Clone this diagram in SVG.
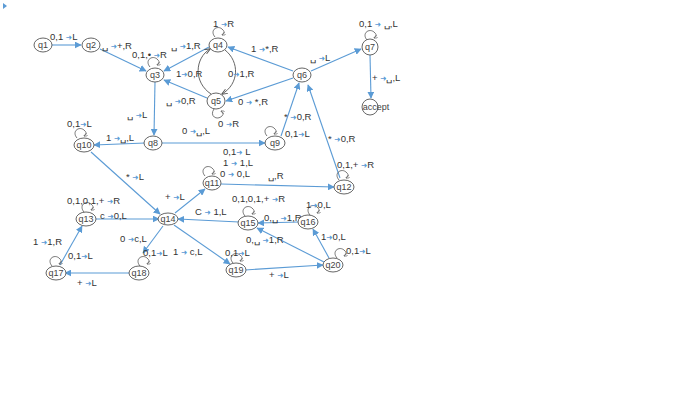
<svg xmlns="http://www.w3.org/2000/svg" width="680" height="413" viewBox="0 0 680 413">
<defs>
<style>
.n ellipse{fill:#fff;stroke:#555;stroke-width:0.9}
.n text{font-family:"Liberation Sans",Arial,sans-serif;font-size:9px;fill:#444;text-anchor:middle}
.e line{stroke:#5b9bd5;stroke-width:1.1;fill:none;marker-end:url(#ah)}
.lp{stroke:#555;stroke-width:0.8;fill:none;marker-end:url(#lh)}
.arc{stroke:#555;stroke-width:0.9;fill:none}
.l{font-family:"Liberation Sans",Arial,sans-serif;font-size:9.5px;fill:#333}
.a{fill:#5b9bd5;font-family:"DejaVu Sans",sans-serif;font-size:7.5px}
</style>
<marker id="ah" viewBox="0 0 10 10" refX="9" refY="5" markerWidth="7" markerHeight="7" orient="auto" markerUnits="userSpaceOnUse"><path d="M0,0L10,5L0,10z" fill="#5b9bd5"/></marker>
<marker id="gh" viewBox="0 0 10 10" refX="9" refY="5" markerWidth="6" markerHeight="6" orient="auto" markerUnits="userSpaceOnUse"><path d="M0,1L10,5L0,9" fill="none" stroke="#555" stroke-width="1.5"/></marker>
<marker id="lh" viewBox="0 0 10 10" refX="9" refY="5" markerWidth="4" markerHeight="4" orient="auto" markerUnits="userSpaceOnUse"><path d="M0,1L10,5L0,9" fill="none" stroke="#555" stroke-width="1.5"/></marker>
</defs>
<rect width="680" height="413" fill="#fff"/>
<path d="M3,3L7,6L3,9z" fill="#5b9bd5"/>
<g id="connectors" class="e">
<line x1="52" y1="45" x2="81" y2="45"/>
<line x1="100" y1="49" x2="146" y2="71"/>
<line x1="209" y1="47" x2="164" y2="71"/>
<line x1="207" y1="98" x2="164" y2="80"/>
<line x1="293" y1="71" x2="228" y2="47"/>
<line x1="293" y1="78" x2="226" y2="101"/>
<line x1="311" y1="71" x2="361" y2="49"/>
<line x1="370" y1="55" x2="371" y2="98"/>
<line x1="155" y1="82" x2="154" y2="135"/>
<line x1="145" y1="143" x2="94" y2="145"/>
<line x1="162" y1="143" x2="265" y2="143"/>
<line x1="281" y1="136" x2="299" y2="83"/>
<line x1="340" y1="178" x2="308" y2="85"/>
<line x1="91" y1="152" x2="160" y2="214"/>
<line x1="175" y1="213" x2="205" y2="189"/>
<line x1="221" y1="184" x2="334" y2="187"/>
<line x1="95" y1="219" x2="159" y2="219"/>
<line x1="239" y1="222" x2="178" y2="219"/>
<line x1="299" y1="222" x2="258" y2="223"/>
<line x1="329" y1="258" x2="313" y2="229"/>
<line x1="324" y1="262" x2="257" y2="228"/>
<line x1="245" y1="270" x2="323" y2="265"/>
<line x1="174" y1="225" x2="230" y2="264"/>
<line x1="163" y1="226" x2="143" y2="253"/>
<line x1="130" y1="273" x2="65" y2="273"/>
<line x1="60" y1="265" x2="82" y2="226"/>
<path class="arc" d="M211,94 C193,82 195,58 210,49" marker-end="url(#gh)"/>
<path class="arc" d="M225,50 C240,62 239,84 222,94" marker-end="url(#gh)"/>
<path class="lp" d="M150,67 c-6,-7 3,-13 8,-7 c2,2 1,4 -1,5"/>
<path class="lp" d="M215,37 c-6,-7 3,-13 8,-7 c2,2 1,4 -1,5"/>
<path class="lp" d="M214,109 c-5,7 3,12 8,7 c2,-2 1,-4 -1,-5"/>
<path class="lp" d="M367,40 c-6,-7 3,-13 8,-7 c2,2 1,4 -1,5"/>
<path class="lp" d="M267,136 c-6,-7 3,-13 8,-7 c2,2 1,4 -1,5"/>
<path class="lp" d="M77,138 c-6,-7 3,-13 8,-7 c2,2 1,4 -1,5"/>
<path class="lp" d="M205,176 c-6,-7 3,-13 8,-7 c2,2 1,4 -1,5"/>
<path class="lp" d="M339,180 c-6,-7 3,-13 8,-7 c2,2 1,4 -1,5"/>
<path class="lp" d="M84,212 c-6,-7 3,-13 8,-7 c2,2 1,4 -1,5"/>
<path class="lp" d="M245,216 c-6,-7 3,-13 8,-7 c2,2 1,4 -1,5"/>
<path class="lp" d="M310,215 c-6,-7 3,-13 8,-7 c2,2 1,4 -1,5"/>
<path class="lp" d="M52,266 c-6,-7 3,-13 8,-7 c2,2 1,4 -1,5"/>
<path class="lp" d="M140,266 c-6,-7 3,-13 8,-7 c2,2 1,4 -1,5"/>
<path class="lp" d="M233,263 c-6,-7 3,-13 8,-7 c2,2 1,4 -1,5"/>
<path class="lp" d="M337,258 c-6,-7 3,-13 8,-7 c2,2 1,4 -1,5"/>
</g>
<g id="labels">
<text class="l" x="50" y="40">0,1 <tspan class="a">➜</tspan>L</text>
<text class="l" x="102" y="49">␣ <tspan class="a">➜</tspan>+,R</text>
<text class="l" x="132" y="58">0,1,• <tspan class="a">➜</tspan>R</text>
<text class="l" x="171" y="49">␣ <tspan class="a">➜</tspan>1,R</text>
<text class="l" x="213" y="27">1 <tspan class="a">➜</tspan>R</text>
<text class="l" x="176" y="77">1<tspan class="a">➜</tspan>0,R</text>
<text class="l" x="228" y="77">0<tspan class="a">➜</tspan>1,R</text>
<text class="l" x="251" y="52">1 <tspan class="a">➜</tspan>*,R</text>
<text class="l" x="166" y="104">␣ <tspan class="a">➜</tspan>0,R</text>
<text class="l" x="218" y="127">0 <tspan class="a">➜</tspan>R</text>
<text class="l" x="238" y="105">0 <tspan class="a">➜</tspan> *,R</text>
<text class="l" x="310" y="61">␣ <tspan class="a">➜</tspan>L</text>
<text class="l" x="359" y="27">0,1 <tspan class="a">➜</tspan>  ␣,L</text>
<text class="l" x="372" y="81">+ <tspan class="a">➜</tspan>␣,L</text>
<text class="l" x="127" y="118">␣ <tspan class="a">➜</tspan>L</text>
<text class="l" x="106" y="141">1 <tspan class="a">➜</tspan>␣,L</text>
<text class="l" x="182" y="134">0 <tspan class="a">➜</tspan>␣,L</text>
<text class="l" x="284" y="120">* <tspan class="a">➜</tspan>0,R</text>
<text class="l" x="285" y="137">0,1<tspan class="a">➜</tspan>L</text>
<text class="l" x="328" y="142">* <tspan class="a">➜</tspan>0,R</text>
<text class="l" x="67" y="127">0,1<tspan class="a">➜</tspan>L</text>
<text class="l" x="126" y="180">* <tspan class="a">➜</tspan>L</text>
<text class="l" x="223" y="155">0,1<tspan class="a">➜</tspan> L</text>
<text class="l" x="223" y="166">1 <tspan class="a">➜</tspan> 1,L</text>
<text class="l" x="220" y="177">0 <tspan class="a">➜</tspan> 0,L</text>
<text class="l" x="268" y="179">␣,R</text>
<text class="l" x="337" y="168">0,1,+ <tspan class="a">➜</tspan>R</text>
<text class="l" x="165" y="200">+ <tspan class="a">➜</tspan>L</text>
<text class="l" x="67" y="204">0,1,0,1,+ <tspan class="a">➜</tspan>R</text>
<text class="l" x="100" y="219">c <tspan class="a">➜</tspan>0,L</text>
<text class="l" x="195" y="215">C <tspan class="a">➜</tspan> 1,L</text>
<text class="l" x="232" y="202">0,1,0,1,+ <tspan class="a">➜</tspan>R</text>
<text class="l" x="264" y="221">0,␣ <tspan class="a">➜</tspan>1,R</text>
<text class="l" x="306" y="208">1<tspan class="a">➜</tspan>0,L</text>
<text class="l" x="321" y="240">1<tspan class="a">➜</tspan>0,L</text>
<text class="l" x="246" y="243">0,␣ <tspan class="a">➜</tspan>1,R</text>
<text class="l" x="346" y="254">0,1<tspan class="a">➜</tspan>L</text>
<text class="l" x="269" y="278">+ <tspan class="a">➜</tspan>L</text>
<text class="l" x="225" y="256">0,1<tspan class="a">➜</tspan>L</text>
<text class="l" x="173" y="255">1 <tspan class="a">➜</tspan> c,L</text>
<text class="l" x="120" y="242">0 <tspan class="a">➜</tspan>c,L</text>
<text class="l" x="143" y="256">0,1<tspan class="a">➜</tspan>L</text>
<text class="l" x="77" y="286">+ <tspan class="a">➜</tspan>L</text>
<text class="l" x="68" y="259">0,1<tspan class="a">➜</tspan>L</text>
<text class="l" x="33" y="245">1 <tspan class="a">➜</tspan>1,R</text>
</g>
<g id="q1" class="n"><ellipse cx="43" cy="45" rx="9" ry="7"/><text x="43" y="48">q1</text></g>
<g id="q2" class="n"><ellipse cx="91" cy="45" rx="9" ry="7"/><text x="91" y="48">q2</text></g>
<g id="q3" class="n"><ellipse cx="155" cy="75" rx="9" ry="7"/><text x="155" y="78">q3</text></g>
<g id="q4" class="n"><ellipse cx="218" cy="45" rx="9" ry="7"/><text x="218" y="48">q4</text></g>
<g id="q5" class="n"><ellipse cx="216" cy="101" rx="9" ry="8"/><text x="216" y="104">q5</text></g>
<g id="q6" class="n"><ellipse cx="302" cy="75" rx="9" ry="7"/><text x="302" y="78">q6</text></g>
<g id="q7" class="n"><ellipse cx="370" cy="47" rx="8" ry="8"/><text x="370" y="50">q7</text></g>
<g id="accept" class="n"><ellipse cx="370" cy="107" rx="8" ry="8"/><text x="376" y="110">accept</text></g>
<g id="q8" class="n"><ellipse cx="153" cy="143" rx="9" ry="7"/><text x="153" y="146">q8</text></g>
<g id="q9" class="n"><ellipse cx="275" cy="143" rx="10" ry="7"/><text x="275" y="146">q9</text></g>
<g id="q10" class="n"><ellipse cx="84" cy="145" rx="10" ry="7"/><text x="84" y="148">q10</text></g>
<g id="q11" class="n"><ellipse cx="212" cy="183" rx="9" ry="7"/><text x="212" y="186">q11</text></g>
<g id="q12" class="n"><ellipse cx="344" cy="187" rx="10" ry="7"/><text x="344" y="190">q12</text></g>
<g id="q13" class="n"><ellipse cx="86" cy="219" rx="10" ry="7"/><text x="86" y="222">q13</text></g>
<g id="q14" class="n"><ellipse cx="168" cy="219" rx="10" ry="6"/><text x="168" y="222">q14</text></g>
<g id="q15" class="n"><ellipse cx="248" cy="223" rx="10" ry="7"/><text x="248" y="226">q15</text></g>
<g id="q16" class="n"><ellipse cx="308" cy="222" rx="10" ry="7"/><text x="308" y="225">q16</text></g>
<g id="q17" class="n"><ellipse cx="56" cy="273" rx="10" ry="7"/><text x="56" y="276">q17</text></g>
<g id="q18" class="n"><ellipse cx="139" cy="273" rx="10" ry="7"/><text x="139" y="276">q18</text></g>
<g id="q19" class="n"><ellipse cx="236" cy="270" rx="10" ry="7"/><text x="236" y="273">q19</text></g>
<g id="q20" class="n"><ellipse cx="333" cy="265" rx="10" ry="7"/><text x="333" y="268">q20</text></g>
</svg>
